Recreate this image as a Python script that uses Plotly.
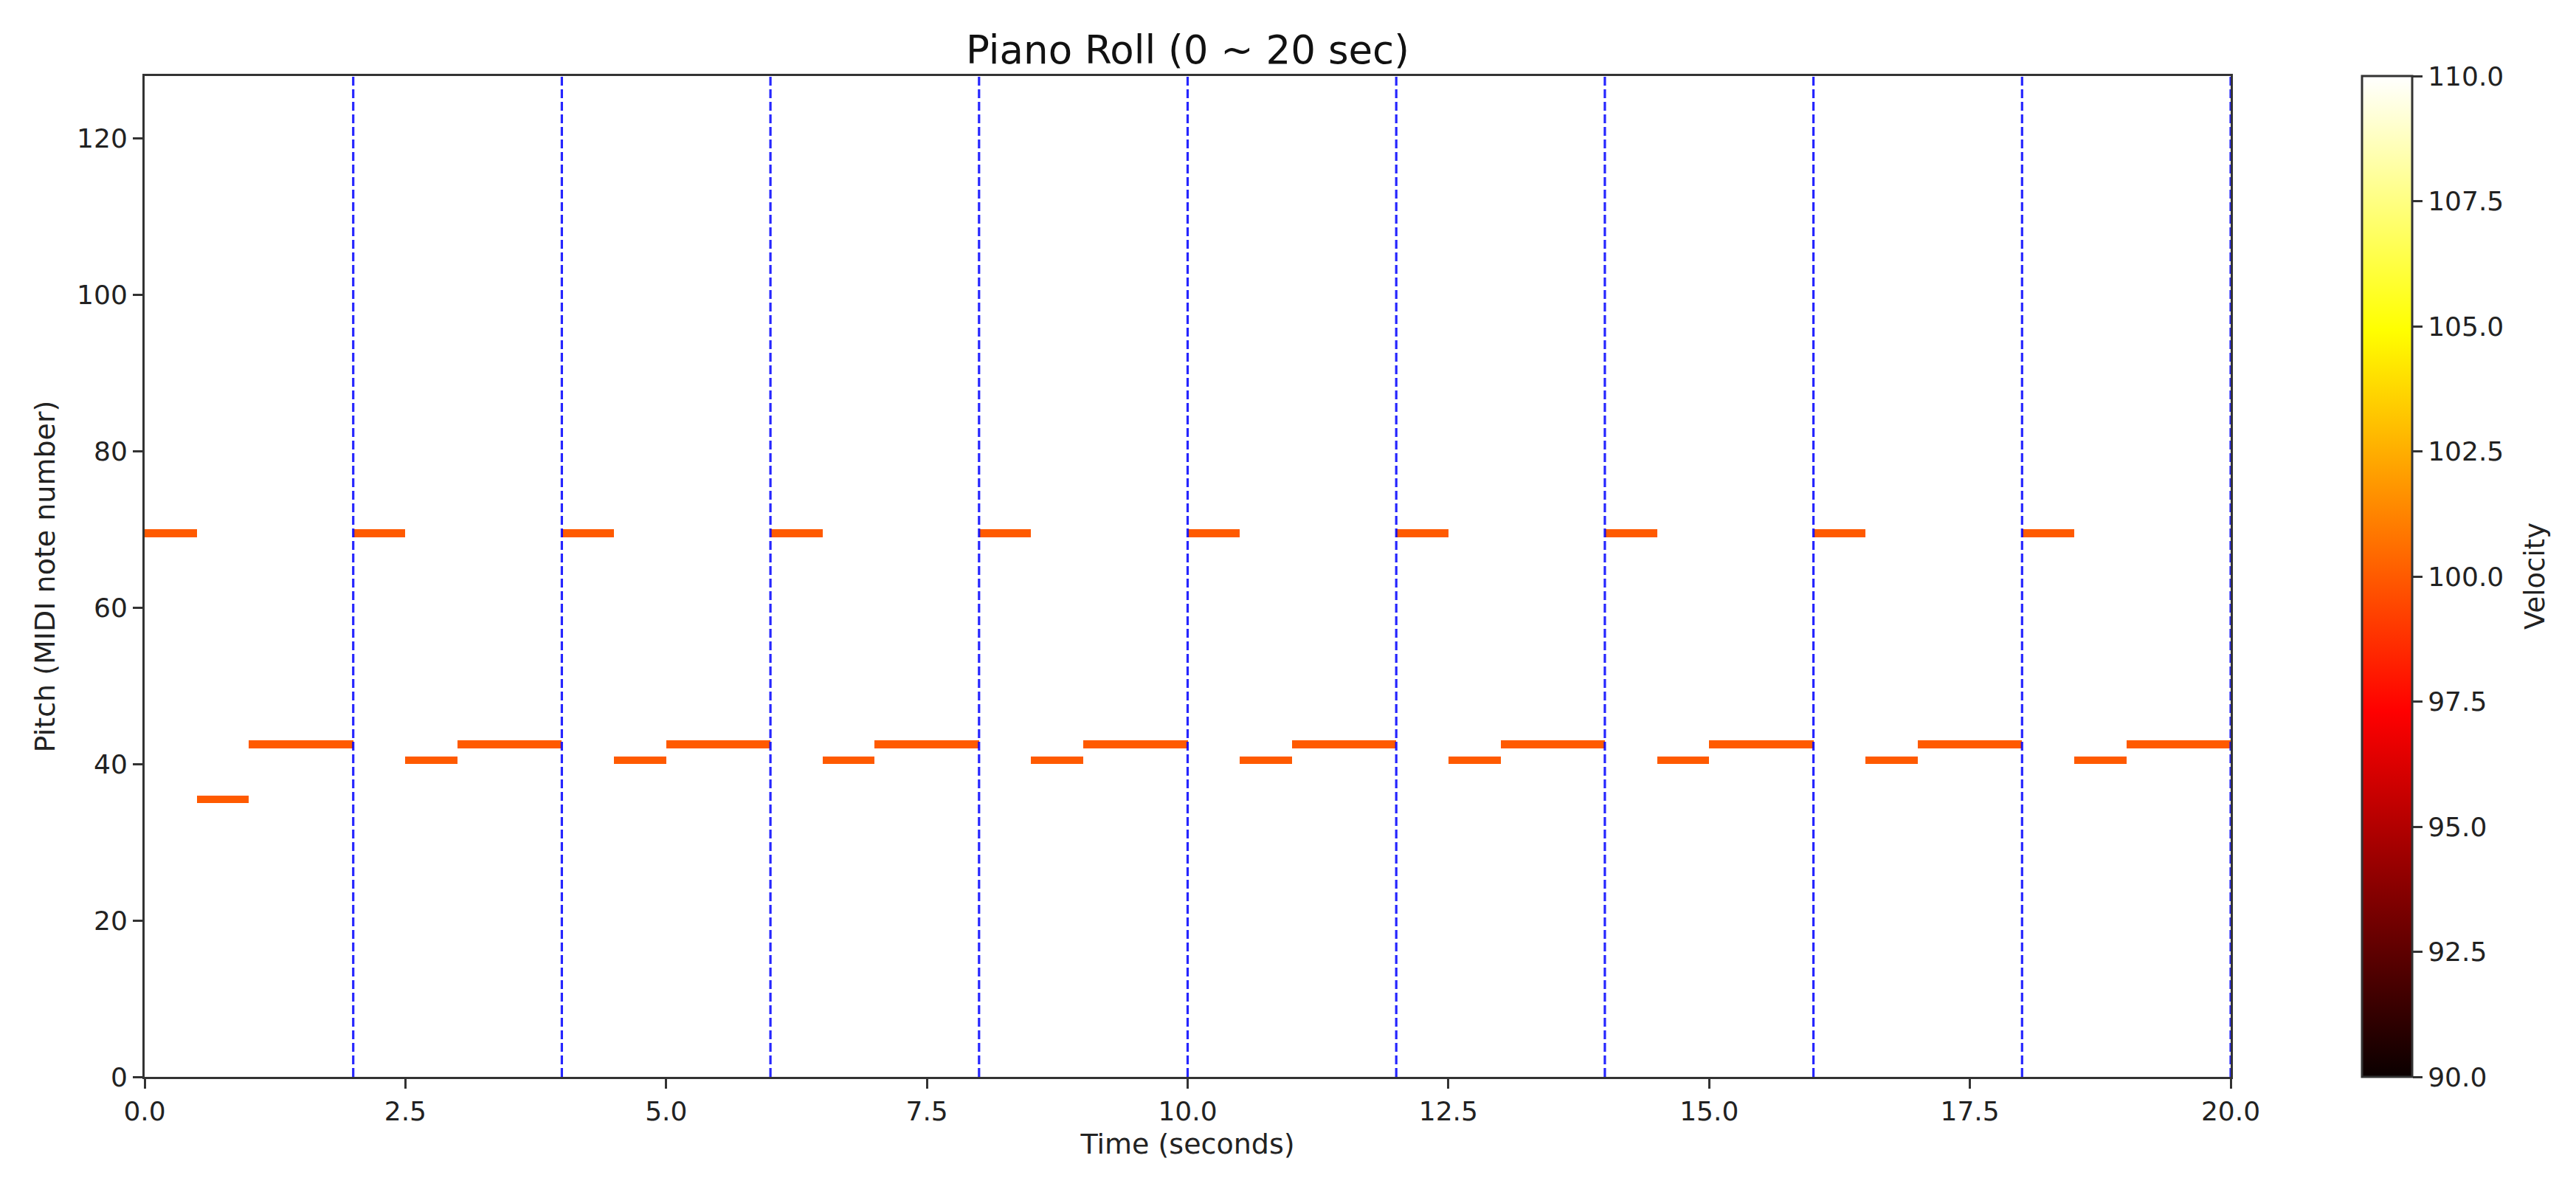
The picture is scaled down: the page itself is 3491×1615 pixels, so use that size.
import numpy as np
import plotly.graph_objects as go

# ---- data ----
note_start = [0.0, 0.5, 1.0, 2.0, 2.5, 3.0, 4.0, 4.5, 5.0, 6.0, 6.5, 7.0,
              8.0, 8.5, 9.0, 10.0, 10.5, 11.0, 12.0, 12.5, 13.0, 14.0, 14.5, 15.0,
              16.0, 16.5, 17.0, 18.0, 18.5, 19.0]
note_end = [0.5, 1.0, 2.0, 2.5, 3.0, 4.0, 4.5, 5.0, 6.0, 6.5, 7.0, 8.0,
            8.5, 9.0, 10.0, 10.5, 11.0, 12.0, 12.5, 13.0, 14.0, 14.5, 15.0, 16.0,
            16.5, 17.0, 18.0, 18.5, 19.0, 20.0]
note_pitch = [69, 35, 42, 69, 40, 42, 69, 40, 42, 69, 40, 42,
              69, 40, 42, 69, 40, 42, 69, 40, 42, 69, 40, 42,
              69, 40, 42, 69, 40, 42]
note_velocity = [100, 100, 100, 100, 100, 100, 100, 100, 100, 100, 100, 100,
                 100, 100, 100, 100, 100, 100, 100, 100, 100, 100, 100, 100,
                 100, 100, 100, 100, 100, 100]
bar_lines = [2.0, 4.0, 6.0, 8.0, 10.0, 12.0, 14.0, 16.0, 18.0, 20.0]

x_ticks = [0.0, 2.5, 5.0, 7.5, 10.0, 12.5, 15.0, 17.5, 20.0]
y_ticks = [0, 20, 40, 60, 80, 100, 120]
cb_ticks = [90.0, 92.5, 95.0, 97.5, 100.0, 102.5, 105.0, 107.5, 110.0]

title_text = "Piano Roll (0 ~ 20 sec)"
x_label = "Time (seconds)"
y_label = "Pitch (MIDI note number)"
cb_label = "Velocity"

# ---- build piano-roll matrix (like pretty_midi get_piano_roll) ----
fs = 10
t_max = 20.0
n_cols = int(t_max * fs)
roll = np.full((128, n_cols), np.nan)
for s, e, p, v in zip(note_start, note_end, note_pitch, note_velocity):
    roll[p, int(round(s * fs)):int(round(e * fs))] = v
z = [[None if np.isnan(val) else float(val) for val in row] for row in roll]

hot = [[0.0, "rgb(10,0,0)"], [0.365079, "rgb(255,0,0)"],
       [0.746032, "rgb(255,255,0)"], [1.0, "rgb(255,255,255)"]]

FONT = "DejaVu Sans"
W, H = 3491, 1615
OFF = 8  # browser body margin
L, R, T, B = 196 - OFF, 3023 - OFF, 103 - OFF, 1459 - OFF
CB_LEFT = 3201 - OFF

fig = go.Figure()
fig.add_trace(go.Heatmap(
    z=z, x0=0.5 / fs, dx=1.0 / fs, y0=0.5, dy=1.0,
    colorscale=hot, zmin=90, zmax=110, hoverongaps=False,
    colorbar=dict(
        x=(CB_LEFT - L) / (R - L), xanchor="left", xref="paper",
        y=0.5, yanchor="middle", len=1.0, lenmode="fraction",
        thickness=68, thicknessmode="pixels", xpad=0, ypad=0,
        outlinewidth=3, outlinecolor="#333333",
        tickvals=cb_ticks, ticktext=[f"{v:.1f}" for v in cb_ticks],
        ticks="outside", ticklen=13, tickwidth=3, tickcolor="#333333",
        tickfont=dict(family=FONT, size=36, color="#222222"),
    ),
))

for xv in bar_lines:
    fig.add_vline(x=xv, line=dict(color="rgba(0,0,255,0.85)", width=3.2, dash="12px,5px"))

axis_common = dict(
    showgrid=False, zeroline=False, showline=True, mirror=True,
    linecolor="#333333", linewidth=3, ticks="outside", ticklen=13,
    tickwidth=3, tickcolor="#333333", automargin=False,
    tickfont=dict(family=FONT, size=36, color="#222222"),
)
fig.update_xaxes(range=[0, 20], tickvals=x_ticks,
                 ticktext=[f"{v:.1f}" for v in x_ticks],
                 title=dict(text=x_label, font=dict(family=FONT, size=38, color="#222222"), standoff=12),
                 **axis_common)
fig.update_yaxes(range=[0, 128], tickvals=y_ticks,
                 ticktext=[str(v) for v in y_ticks],
                 title=dict(text=y_label, font=dict(family=FONT, size=38, color="#222222"), standoff=18),
                 **axis_common)

fig.add_annotation(text=cb_label, textangle=-90, showarrow=False,
                   xref="paper", yref="paper",
                   x=(3435 - OFF - L) / (R - L), y=0.5,
                   xanchor="center", yanchor="middle",
                   font=dict(family=FONT, size=37, color="#222222"))

fig.update_layout(
    width=W, height=H,
    margin=dict(l=L, r=W - R, t=T, b=H - B, pad=0, autoexpand=False),
    paper_bgcolor="white", plot_bgcolor="white",
    showlegend=False,
    title=dict(text=title_text, x=0.5, xref="paper", xanchor="center",
               y=1 - (67 - OFF) / H, yref="container", yanchor="middle",
               font=dict(family=FONT, size=53, color="#111111")),
)

fig.write_html("out.html")
